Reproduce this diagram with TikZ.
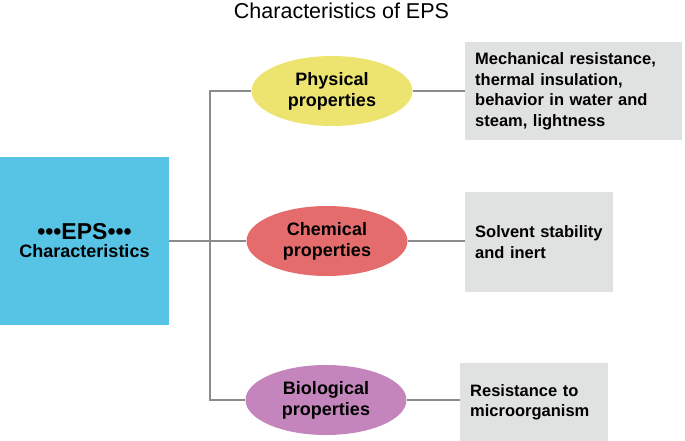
\documentclass[tikz,border=0pt]{standalone}
\usepackage{fontspec}
\setmainfont{Liberation Sans}
\usetikzlibrary{positioning, shapes.geometric}
\definecolor{epsblue}{RGB}{88,196,229}
\definecolor{physyellow}{RGB}{237,228,112}
\definecolor{chemred}{RGB}{229,108,108}
\definecolor{biopurple}{RGB}{196,133,188}
\definecolor{descgray}{RGB}{224,226,225}
\definecolor{linkgray}{RGB}{140,140,140}
\newcommand{\nohyph}{\hyphenpenalty10000\relax}

\begin{document}
\begin{tikzpicture}[x=1pt, y=-1pt,
    link/.style={draw=linkgray, line width=2.2pt},
    prop/.style={ellipse, minimum width=161pt, minimum height=70pt, inner sep=0pt,
                 align=center, font=\bfseries\fontsize{18}{21}\selectfont},
    desc/.style={fill=descgray, anchor=north west, align=left, inner xsep=10pt, inner ysep=0pt,
                 font=\bfseries\fontsize{16.5}{20.7}\selectfont\nohyph}]
    \useasboundingbox (0,0) rectangle (685,440);

    % Title
    \node[font=\fontsize{21.5}{24}\selectfont] (title) at (341.5,11) {Characteristics of EPS};

    % Main box
    \node[fill=epsblue, minimum width=169pt, minimum height=168pt, inner sep=0pt, align=center,
          font=\bfseries\fontsize{18}{18}\selectfont]
        (eps) at (84.5,241)
        {{\fontsize{23}{18}\selectfont\textbullet\textbullet\textbullet EPS\textbullet\textbullet\textbullet}\\
         Characteristics};

    % Property ellipses
    \node[prop, fill=physyellow] (phys) at (332,91) {Physical\\properties};
    \node[prop, fill=chemred] (chem) at (327,241) {Chemical\\properties};
    \node[prop, fill=biopurple] (bio) at (326,400) {Biological\\properties};

    % Descriptions
    \node[desc, minimum width=217pt, minimum height=98pt, text width=197pt] (physdesc) at (465,42)
        {Mechanical resistance,\\thermal insulation,\\behavior in water and\\steam, lightness};
    \node[desc, minimum width=148pt, minimum height=100pt, text width=128pt] (chemdesc) at (465,192)
        {Solvent stability\\and inert};
    \node[desc, minimum width=148pt, minimum height=78pt, text width=128pt] (biodesc) at (460,363)
        {Resistance to\\microorganism};

    % Connectors
    \coordinate (trunk) at (210,241);
    \draw[link] (eps.east) -- (eps.east -| chem.west);
    \draw[link] (phys.west) -- (phys.west -| trunk) -- (bio.west -| trunk) -- (bio.west);
    \draw[link] (phys.east) -- (physdesc.west |- phys.east);
    \draw[link] (chem.east) -- (chemdesc.west |- chem.east);
    \draw[link] (bio.east) -- (biodesc.west |- bio.east);
\end{tikzpicture}
\end{document}
